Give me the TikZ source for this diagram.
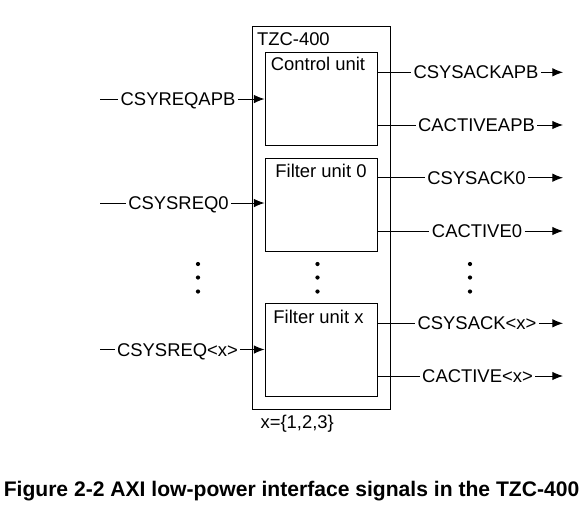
\documentclass[tikz,border=0pt]{standalone}
\usepackage{fontspec}
\setmainfont{Liberation Sans}
\usetikzlibrary{arrows.meta,positioning}

\tikzset{
  lbl/.style={font=\fontsize{13.1}{15}\selectfont, inner sep=1.5pt, text height=9.4pt, text depth=0pt},
  unit/.style={draw, minimum width=2.8cm, minimum height=2.325cm, inner sep=0pt},
  sig/.style={-{Latex[length=7.5pt,width=6pt]}},
  dotmark/.style={circle, fill, inner sep=0pt, minimum size=3pt}
}

\begin{document}
\begin{tikzpicture}[x=0.025cm,y=-0.025cm,line width=0.65pt]
\useasboundingbox (0,0) rectangle (588,516);

% outer block
\node[draw, minimum width=3.45cm, minimum height=9.575cm, inner sep=0pt] (tzc) at (321,217.5) {};
\node[lbl, anchor=west] (tzclbl) at (254.5,39) {TZC-400};
\node[lbl, anchor=west] (xset) at (258,422) {x=\{1,2,3\}};

% units
\node[unit] (ctrl) at (321,98.5) {};
\node[lbl] (ctrllbl) at (318,64) {Control unit};
\node[unit] (filt0) at (321,204.5) {};
\node[lbl] (filt0lbl) at (321,171) {Filter unit 0};
\node[unit] (filtx) at (321,349.5) {};
\node[lbl] (filtxlbl) at (318.5,317) {Filter unit x};

% inputs
\coordinate (inapb) at (100,99);
\node[lbl] (reqapb) at (178,99) {CSYREQAPB};
\draw (inapb) -- (reqapb);
\draw[sig] (reqapb) -- (reqapb -| ctrl.west);

\coordinate (in0) at (100,203);
\node[lbl] (req0) at (178.5,203) {CSYSREQ0};
\draw (in0) -- (req0);
\draw[sig] (req0) -- (req0 -| filt0.west);

\coordinate (inx) at (100,349.5);
\node[lbl] (reqx) at (177.5,349.5) {CSYSREQ<x>};
\draw (inx) -- (reqx);
\draw[sig] (reqx) -- (reqx -| filtx.west);

% outputs
\node[lbl] (ackapb) at (476,72.3) {CSYSACKAPB};
\coordinate (outackapb) at (563,72.3);
\draw (ctrl.east |- ackapb) -- (ackapb);
\draw[sig] (ackapb) -- (outackapb);

\node[lbl] (actapb) at (476.5,125) {CACTIVEAPB};
\coordinate (outactapb) at (563,125);
\draw (ctrl.east |- actapb) -- (actapb);
\draw[sig] (actapb) -- (outactapb);

\node[lbl] (ack0) at (476.5,177.7) {CSYSACK0};
\coordinate (outack0) at (563,177.7);
\draw (filt0.east |- ack0) -- (ack0);
\draw[sig] (ack0) -- (outack0);

\node[lbl] (act0) at (477,231) {CACTIVE0};
\coordinate (outact0) at (563,231);
\draw (filt0.east |- act0) -- (act0);
\draw[sig] (act0) -- (outact0);

\node[lbl] (ackx) at (477,323.3) {CSYSACK<x>};
\coordinate (outackx) at (563,323.3);
\draw (filtx.east |- ackx) -- (ackx);
\draw[sig] (ackx) -- (outackx);

\node[lbl] (actx) at (477.5,376) {CACTIVE<x>};
\coordinate (outactx) at (563,376);
\draw (filtx.east |- actx) -- (actx);
\draw[sig] (actx) -- (outactx);

% dots
\node[dotmark] (dl1) at (198,264) {};
\node[dotmark] (dl2) at (198,277.5) {};
\node[dotmark] (dl3) at (198,291.5) {};
\node[dotmark] (dm1) at (317.5,264) {};
\node[dotmark] (dm2) at (317.5,277.5) {};
\node[dotmark] (dm3) at (317.5,291.5) {};
\node[dotmark] (dr1) at (470,264) {};
\node[dotmark] (dr2) at (470,277.5) {};
\node[dotmark] (dr3) at (470,291.5) {};

% caption
\node[font=\fontsize{15}{18}\selectfont\bfseries, inner sep=0pt, text height=10.8pt, text depth=0pt] (caption) at (291.5,489) {Figure 2-2 AXI low-power interface signals in the TZC-400};
\end{tikzpicture}
\end{document}
